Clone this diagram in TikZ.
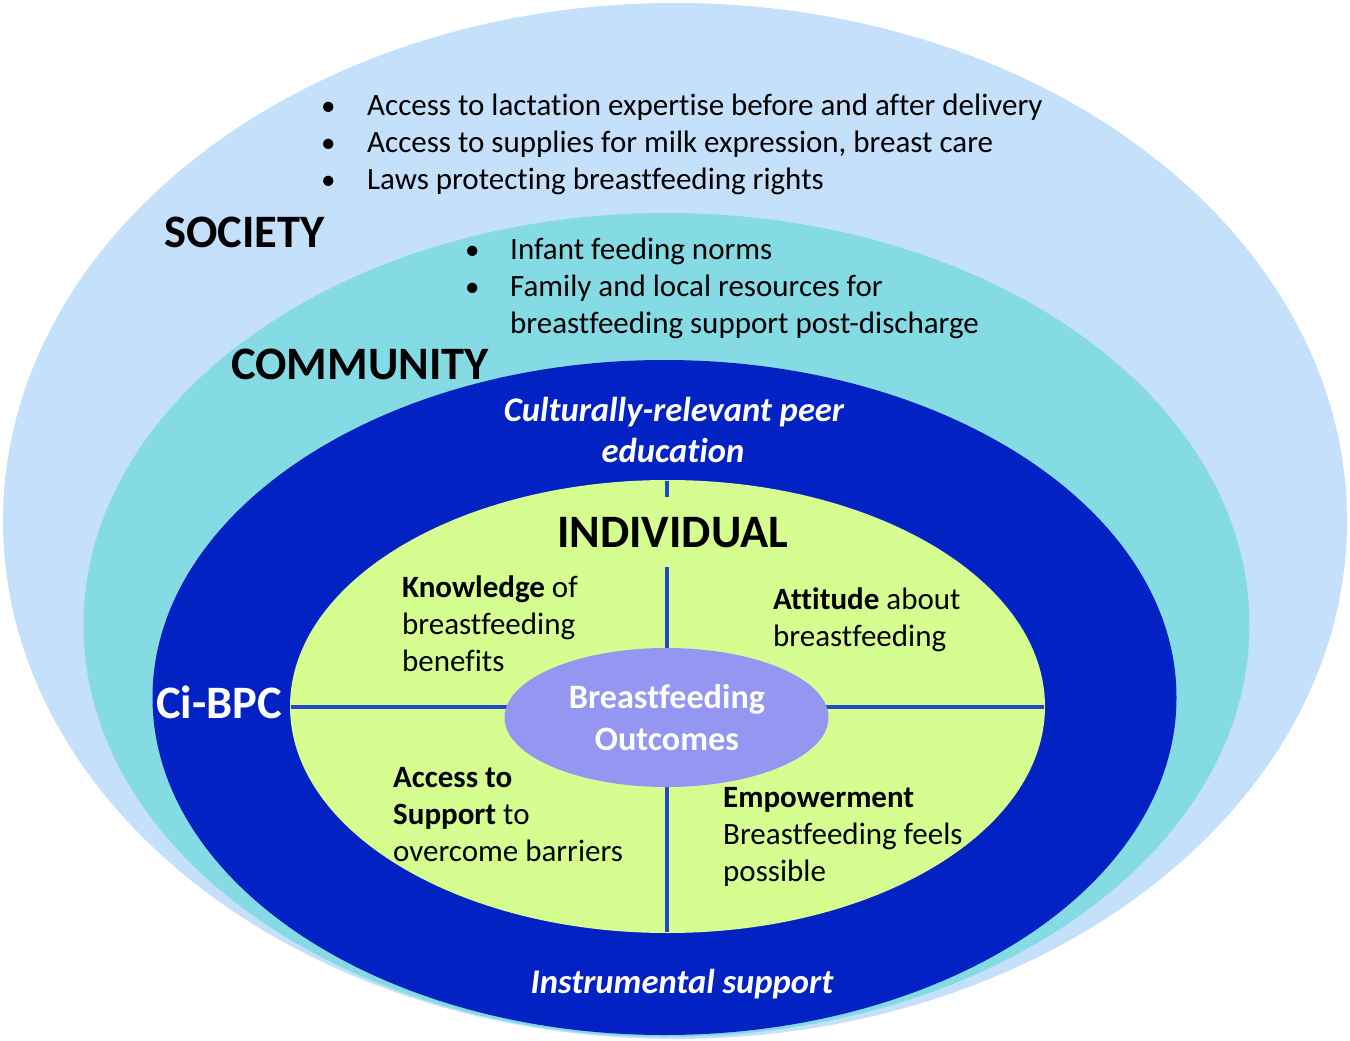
\documentclass[tikz,border=0pt]{standalone}
\usepackage{fontspec}
\setmainfont{Carlito}[Ligatures={NoCommon,NoContextual}]
\definecolor{societyc}{HTML}{C5E0FB}
\definecolor{communityc}{HTML}{85DBE3}
\definecolor{cibpcc}{HTML}{0222C3}
\definecolor{indivc}{HTML}{D5FD8F}
\definecolor{outcomec}{HTML}{9595F2}
\definecolor{dividerc}{HTML}{2448C4}
\begin{document}
\begin{tikzpicture}[x=1pt,y=-1pt,
  body/.style={inner sep=0pt, anchor=base west, text=black, font=\fontsize{31}{37}\selectfont},
  bul/.style={inner sep=0pt, anchor=base west, text=black, font=\fontsize{29}{37}\selectfont},
  head/.style={inner sep=0pt, anchor=base west, text=black, font=\fontsize{46.5}{54}\selectfont\bfseries},
  whitehead/.style={inner sep=0pt, anchor=base west, text=white, font=\fontsize{46.5}{54}\selectfont\bfseries},
  whiteit/.style={inner sep=0pt, anchor=base, text=white, font=\fontsize{34.6}{41}\selectfont\bfseries\itshape},
  whitebf/.style={inner sep=0pt, anchor=base, text=white, font=\fontsize{34.2}{42}\selectfont\bfseries},
  divider/.style={draw=dividerc, line width=3.2pt}
]
\useasboundingbox (0,0) rectangle (1350,1041);

% nested ellipses
\fill[societyc]   (675,521)   ellipse [x radius=672pt, y radius=518pt];
\fill[communityc] (666.5,625) ellipse [x radius=583pt, y radius=412pt];
\fill[cibpcc]     (664.5,697.5) ellipse [x radius=512pt, y radius=337.5pt];
\fill[indivc]     (667.5,706.5) ellipse [x radius=377.5pt, y radius=226.5pt];

% dividers
\coordinate (vtop) at (667,481);
\coordinate (vtopend) at (667,497);
\coordinate (vmid) at (667,567);
\coordinate (vbot) at (667,932);
\coordinate (hleft) at (291,707);
\coordinate (hright) at (1044,707);
\draw[divider] (vtop) -- (vtopend);
\draw[divider] (vmid) -- (vbot);
\draw[divider] (hleft) -- (hright);

% centre
\fill[outcomec] (666.5,717.5) ellipse [x radius=162pt, y radius=69.5pt];

% SOCIETY
\node[bul] (sb1) at (321,115) {•};
\node[body] (s1) at (367,115) {Access to lactation expertise before and after delivery};
\node[bul] (sb2) at (321,152) {•};
\node[body] (s2) at (367,152) {Access to supplies for milk expression, breast care};
\node[bul] (sb3) at (321,189) {•};
\node[body] (s3) at (367,189) {Laws protecting breastfeeding rights};
\node[head] (society) at (164,247) {SOCIETY};

% COMMUNITY
\node[bul] (cb1) at (465,259) {•};
\node[body] (c1) at (510,259) {Infant feeding norms};
\node[bul] (cb2) at (465,296) {•};
\node[body] (c2) at (510,296) {Family and local resources for};
\node[body] (c3) at (510,333) {breastfeeding support post-discharge};
\node[head] (community) at (231,379) {COMMUNITY};

% Ci-BPC
\node[whiteit] (cul1) at (674,421) {Culturally-relevant peer};
\node[whiteit] (cul2) at (673,462) {education};
\node[whitehead] (cibpc) at (156,718) {Ci-BPC};
\node[whiteit] (instr) at (682,993) {Instrumental support};

% INDIVIDUAL
\node[head] (indiv) at (557,547) {INDIVIDUAL};
\node[body] (k1) at (402,597) {\textbf{Knowledge} of};
\node[body] (k2) at (402,634) {breastfeeding};
\node[body] (k3) at (402,671) {benefits};
\node[body] (a1) at (773,609) {\textbf{Attitude} about};
\node[body] (a2) at (773,646) {breastfeeding};
\node[body] (ac1) at (393,787) {\textbf{Access to}};
\node[body] (ac2) at (393,824) {\textbf{Support} to};
\node[body] (ac3) at (393,861) {overcome barriers};
\node[body] (e1) at (723,807) {\textbf{Empowerment}};
\node[body] (e2) at (723,844) {Breastfeeding feels};
\node[body] (e3) at (723,881) {possible};

% outcomes
\node[whitebf] (o1) at (667,708) {Breastfeeding};
\node[whitebf] (o2) at (667,750) {Outcomes};
\end{tikzpicture}
\end{document}
